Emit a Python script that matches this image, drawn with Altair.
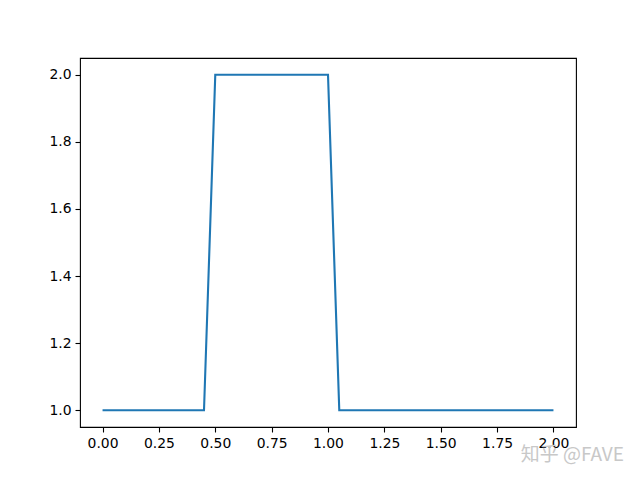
import altair as alt
import pandas as pd

x_vals = [0.0, 0.45, 0.5, 1.0, 1.05, 2.0]
y_vals = [1.0, 1.0, 2.0, 2.0, 1.0, 1.0]
x_ticks = [0.0, 0.25, 0.5, 0.75, 1.0, 1.25, 1.5, 1.75, 2.0]
y_ticks = [1.0, 1.2, 1.4, 1.6, 1.8, 2.0]

df = pd.DataFrame({"x": x_vals, "y": y_vals, "i": list(range(len(x_vals)))})

chart = alt.Chart(df).mark_line(color="#1f77b4", strokeWidth=2.1, clip=True).encode(
    x=alt.X("x:Q", scale=alt.Scale(domain=[-0.1, 2.1], nice=False, zero=False),
            axis=alt.Axis(values=x_ticks, format=".2f", title=None)),
    y=alt.Y("y:Q", scale=alt.Scale(domain=[0.95, 2.05], nice=False, zero=False),
            axis=alt.Axis(values=y_ticks, format=".1f", title=None)),
    order="i:Q",
).properties(
    width=496, height=369,
    autosize=alt.AutoSizeParams(type="none"),
    padding={"left": 72, "top": 50, "right": 48, "bottom": 45},
    title=alt.TitleParams(
        "知乎 @FAVE", orient="bottom", anchor="end", frame="group",
        font="Noto Sans CJK SC", fontSize=19, fontWeight="normal", color="#c8c8c8",
        offset=-4, dx=48,
    ),
).configure_view(
    stroke="black", strokeWidth=1.1
).configure_axis(
    grid=False, domain=False, tickColor="black", tickSize=5, tickWidth=1.1,
    labelFont="DejaVu Sans", labelFontSize=13.9, labelColor="black", labelPadding=4,
)

chart.save("out.html", embed_options={"renderer": "svg", "actions": False})
